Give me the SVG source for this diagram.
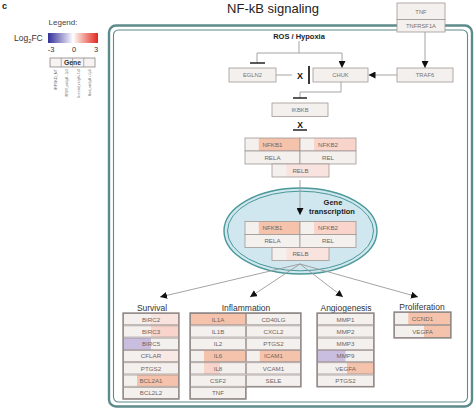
<svg xmlns="http://www.w3.org/2000/svg" width="474" height="409" viewBox="0 0 474 409">
<defs>
<linearGradient id="fc" x1="0" y1="0" x2="1" y2="0">
<stop offset="0" stop-color="#33309a"/>
<stop offset="0.42" stop-color="#dcd9ee"/>
<stop offset="0.5" stop-color="#ffffff"/>
<stop offset="0.6" stop-color="#f7d3cb"/>
<stop offset="1" stop-color="#e3261f"/>
</linearGradient>
<marker id="ah" viewBox="0 0 10 10" refX="10" refY="5" markerWidth="7" markerHeight="7" orient="auto" markerUnits="userSpaceOnUse">
<path d="M0,0 L10,5 L0,10 Z" fill="#111"/>
</marker>
</defs>
<style>
text{font-family:"Liberation Sans",Arial,sans-serif}
.cb{fill:#f4f0ee}
.o{fill:#f5c3ab}
.p{fill:#f8d4cb}
.lp{fill:#f9e3de}
.v{fill:#c9bee0}
.cs{fill:none;stroke:#a09795;stroke-width:0.8}
.gt{font-size:6.2px;fill:#6e6663;text-anchor:middle}
.st{font-size:5.8px;fill:#7a7270;text-anchor:middle}
.grp{fill:none;stroke:#8a8280;stroke-width:1.3}
.ln{fill:none;stroke:#9a9a9a;stroke-width:0.9}
.tb{stroke:#222;stroke-width:1.5}
.hd{font-size:8.5px;fill:#333;text-anchor:middle}
.rl{font-size:4.4px;fill:#666}
</style>
<rect width="474" height="409" fill="#ffffff"/>
<text x="2" y="9" font-size="9" font-weight="bold" fill="#222">c</text>
<text x="273" y="12.5" font-size="13" fill="#222" text-anchor="middle">NF-kB signaling</text>

<!-- Legend -->
<g id="legend">
<text x="63" y="25" font-size="8" fill="#444" text-anchor="middle">Legend:</text>
<text x="14" y="41" font-size="8.5" fill="#333">Log<tspan font-size="5.8" dy="2">2</tspan><tspan dy="-2">FC</tspan></text>
<rect x="48" y="33" width="50" height="10" fill="url(#fc)"/>
<text x="51" y="52" font-size="7.5" fill="#333" text-anchor="middle">-3</text>
<text x="74" y="52" font-size="7.5" fill="#333" text-anchor="middle">0</text>
<text x="96" y="52" font-size="7.5" fill="#333" text-anchor="middle">3</text>
<rect x="50" y="58" width="45" height="9" fill="#f6f3f2" stroke="#8c8482" stroke-width="0.8"/>
<line x1="61.25" y1="58" x2="61.25" y2="67" stroke="#8c8482" stroke-width="0.6"/>
<line x1="72.5" y1="58" x2="72.5" y2="67" stroke="#8c8482" stroke-width="0.6"/>
<line x1="83.75" y1="58" x2="83.75" y2="67" stroke="#8c8482" stroke-width="0.6"/>
<text x="72.5" y="65.2" font-size="6.8" font-weight="bold" fill="#333" text-anchor="middle">Gene</text>
<text class="rl" transform="translate(57.2,69) rotate(-90)" text-anchor="end" textLength="21" lengthAdjust="spacingAndGlyphs">IRF5KD_NT</text>
<text class="rl" transform="translate(68.4,69) rotate(-90)" text-anchor="end" textLength="28" lengthAdjust="spacingAndGlyphs">IRF5KD_anti-IgM + CpG</text>
<text class="rl" transform="translate(79.7,69) rotate(-90)" text-anchor="end" textLength="29" lengthAdjust="spacingAndGlyphs">Scrambled_anti-IgM + CpG</text>
<text class="rl" transform="translate(90.9,69) rotate(-90)" text-anchor="end" textLength="27" lengthAdjust="spacingAndGlyphs">Mock_anti-IgM + CpG</text>
</g>

<!-- Cell membrane -->
<g id="cell">
<rect x="109" y="25.5" width="363" height="381" rx="7" fill="none" stroke="#5d8a8a" stroke-width="2.4"/>
<rect x="113.5" y="30" width="354" height="372" rx="5" fill="none" stroke="#5d8a8a" stroke-width="1.1"/>
</g>

<!-- Nucleus -->
<g id="nucleus">
<ellipse cx="300.5" cy="231" rx="76.5" ry="43" fill="#d0e7ef" stroke="#4a9898" stroke-width="1.4"/>
<ellipse cx="300.5" cy="231" rx="73" ry="39.8" fill="none" stroke="#4a9898" stroke-width="1"/>
<text x="333" y="205" font-size="7.5" font-weight="bold" fill="#222" text-anchor="middle">Gene</text>
<text x="332" y="214" font-size="7.5" font-weight="bold" fill="#222" text-anchor="middle">transcription</text>
</g>

<text x="299" y="38.5" font-size="7.5" font-weight="bold" fill="#222" text-anchor="middle">ROS / Hypoxia</text>

<!-- Connectors -->
<g id="connectors">
<path class="ln" d="M299,41 V53 M257,53 H342 M257,53 V63"/>
<line class="tb" x1="250" y1="63" x2="265" y2="63"/>
<line class="ln" x1="342" y1="53" x2="342" y2="68" marker-end="url(#ah)"/>
<line class="ln" x1="276" y1="75" x2="292" y2="75"/>
<text x="300" y="78.5" font-size="9" font-weight="bold" fill="#111" text-anchor="middle">X</text>
<line x1="309" y1="66" x2="309" y2="84" stroke="#222" stroke-width="1.8"/>
<line class="ln" x1="397" y1="75" x2="368.5" y2="75" marker-end="url(#ah)"/>
<line class="ln" x1="425" y1="32" x2="425" y2="68" marker-end="url(#ah)"/>
<path class="ln" d="M341,82 V92 H300 V98"/>
<line class="tb" x1="293" y1="98" x2="307" y2="98"/>
<text x="300" y="128" font-size="8.5" font-weight="bold" fill="#111" text-anchor="middle">X</text>
<line class="tb" x1="293" y1="130" x2="307" y2="130"/>
<line class="ln" x1="300" y1="180" x2="300" y2="215" marker-end="url(#ah)"/>
<line class="ln" x1="300" y1="264" x2="160" y2="297" marker-end="url(#ah)"/>
<line class="ln" x1="300" y1="264" x2="250" y2="297" marker-end="url(#ah)"/>
<line class="ln" x1="300" y1="264" x2="343" y2="297" marker-end="url(#ah)"/>
<line class="ln" x1="300" y1="264" x2="418" y2="297" marker-end="url(#ah)"/>
</g>

<!-- Upstream nodes -->
<g id="TNF"><rect class="cb" x="397" y="3" width="48" height="16.5"/><rect class="cs" x="397" y="3" width="48" height="16.5"/><text class="st" x="421" y="13.5">TNF</text></g>
<g id="TNFRSF1A"><rect class="cb" x="397" y="19.5" width="48" height="12.5"/><rect class="cs" x="397" y="19.5" width="48" height="12.5"/><text class="st" x="421" y="27.8">TNFRSF1A</text></g>
<g id="EGLN2"><rect class="cb" x="229" y="68" width="47" height="14"/><rect class="cs" x="229" y="68" width="47" height="14"/><text class="st" x="252.5" y="77.2">EGLN2</text></g>
<g id="CHUK"><rect class="cb" x="313" y="68" width="55" height="14"/><rect class="cs" x="313" y="68" width="55" height="14"/><text class="st" x="340.5" y="77.2">CHUK</text></g>
<g id="TRAF6"><rect class="cb" x="397" y="68" width="56" height="14"/><rect class="cs" x="397" y="68" width="56" height="14"/><text class="st" x="425" y="77.2">TRAF6</text></g>
<g id="IKBKB"><rect class="cb" x="272" y="103" width="56" height="13.5"/><rect class="cs" x="272" y="103" width="56" height="13.5"/><text class="st" x="300" y="112">IKBKB</text></g>

<!-- Cytoplasmic NF-kB complex -->
<g id="complex-cyto">
<rect class="cb" x="245" y="138" width="55" height="13"/><rect class="o" x="258.75" y="138" width="41.25" height="13"/><rect class="cs" x="245" y="138" width="55" height="13"/><text class="gt" x="272.5" y="146.8">NFKB1</text>
<rect class="cb" x="300" y="138" width="56" height="13"/><rect class="p" x="314" y="138" width="42" height="13"/><rect class="cs" x="300" y="138" width="56" height="13"/><text class="gt" x="328" y="146.8">NFKB2</text>
<rect class="cb" x="245" y="151" width="55" height="13"/><rect class="cs" x="245" y="151" width="55" height="13"/><text class="gt" x="272.5" y="159.8">RELA</text>
<rect class="cb" x="300" y="151" width="56" height="13"/><rect class="cs" x="300" y="151" width="56" height="13"/><text class="gt" x="328" y="159.8">REL</text>
<rect class="cb" x="272" y="164" width="57" height="13"/><rect class="lp" x="286.25" y="164" width="42.75" height="13"/><rect class="cs" x="272" y="164" width="57" height="13"/><text class="gt" x="300.5" y="172.8">RELB</text>
</g>

<!-- Nuclear NF-kB complex -->
<g id="complex-nuc">
<rect class="cb" x="245" y="221.5" width="55" height="13"/><rect class="o" x="258.75" y="221.5" width="41.25" height="13"/><rect class="cs" x="245" y="221.5" width="55" height="13"/><text class="gt" x="272.5" y="230.3">NFKB1</text>
<rect class="cb" x="300" y="221.5" width="56" height="13"/><rect class="p" x="314" y="221.5" width="42" height="13"/><rect class="cs" x="300" y="221.5" width="56" height="13"/><text class="gt" x="328" y="230.3">NFKB2</text>
<rect class="cb" x="245" y="234.5" width="55" height="13"/><rect class="cs" x="245" y="234.5" width="55" height="13"/><text class="gt" x="272.5" y="243.3">RELA</text>
<rect class="cb" x="300" y="234.5" width="56" height="13"/><rect class="cs" x="300" y="234.5" width="56" height="13"/><text class="gt" x="328" y="243.3">REL</text>
<rect class="cb" x="272" y="247.5" width="57" height="13"/><rect class="lp" x="286.25" y="247.5" width="42.75" height="13"/><rect class="cs" x="272" y="247.5" width="57" height="13"/><text class="gt" x="300.5" y="256.3">RELB</text>
</g>

<!-- Survival -->
<g id="survival">
<text class="hd" x="152" y="311">Survival</text>
<rect class="cb" x="123" y="313" width="56" height="12.3"/><rect class="lp" x="151" y="313" width="28" height="12.3"/><rect class="cs" x="123.5" y="313.5" width="55" height="11.3"/><text class="gt" x="151" y="321.5">BIRC2</text>
<rect class="cb" x="123" y="325.3" width="56" height="12.3"/><rect class="p" x="151" y="325.3" width="28" height="12.3"/><rect class="cs" x="123.5" y="325.8" width="55" height="11.3"/><text class="gt" x="151" y="333.8">BIRC3</text>
<rect class="cb" x="123" y="337.6" width="56" height="12.3"/><rect class="v" x="123" y="337.6" width="28" height="12.3"/><rect class="cs" x="123.5" y="338.1" width="55" height="11.3"/><text class="gt" x="151" y="346.1">BIRC5</text>
<rect class="cb" x="123" y="349.9" width="56" height="12.3"/><rect fill="#f8e9e5" x="151" y="349.9" width="28" height="12.3"/><rect class="cs" x="123.5" y="350.4" width="55" height="11.3"/><text class="gt" x="151" y="358.4">CFLAR</text>
<rect class="cb" x="123" y="362.2" width="56" height="12.3"/><rect class="cs" x="123.5" y="362.7" width="55" height="11.3"/><text class="gt" x="151" y="370.7">PTGS2</text>
<rect class="cb" x="123" y="374.5" width="56" height="12.3"/><rect class="o" x="137" y="374.5" width="42" height="12.3"/><rect class="cs" x="123.5" y="375" width="55" height="11.3"/><text class="gt" x="151" y="383">BCL2A1</text>
<rect class="cb" x="123" y="386.8" width="56" height="12.3"/><rect class="cs" x="123.5" y="387.3" width="55" height="11.3"/><text class="gt" x="151" y="395.3">BCL2L2</text>
<rect class="grp" x="123" y="313" width="56" height="86.1"/>
</g>

<!-- Inflammation -->
<g id="inflammation">
<text class="hd" x="246" y="311">Inflammation</text>
<rect class="o" x="190" y="313" width="56" height="12.3"/><rect class="cs" x="190.5" y="313.5" width="55" height="11.3"/><text class="gt" x="218" y="321.5">IL1A</text>
<rect class="cb" x="190" y="325.3" width="56" height="12.3"/><rect class="cs" x="190.5" y="325.8" width="55" height="11.3"/><text class="gt" x="218" y="333.8">IL1B</text>
<rect class="cb" x="190" y="337.6" width="56" height="12.3"/><rect class="cs" x="190.5" y="338.1" width="55" height="11.3"/><text class="gt" x="218" y="346.1">IL2</text>
<rect class="cb" x="190" y="349.9" width="56" height="12.3"/><rect class="o" x="204" y="349.9" width="42" height="12.3"/><rect class="cs" x="190.5" y="350.4" width="55" height="11.3"/><text class="gt" x="218" y="358.4">IL6</text>
<rect class="cb" x="190" y="362.2" width="56" height="12.3"/><rect class="p" x="204" y="362.2" width="16" height="12.3"/><rect class="cs" x="190.5" y="362.7" width="55" height="11.3"/><text class="gt" x="218" y="370.7">IL8</text>
<rect class="cb" x="190" y="374.5" width="56" height="12.3"/><rect class="cs" x="190.5" y="375" width="55" height="11.3"/><text class="gt" x="218" y="383">CSF2</text>
<rect class="cb" x="190" y="386.8" width="56" height="12.3"/><rect class="cs" x="190.5" y="387.3" width="55" height="11.3"/><text class="gt" x="218" y="395.3">TNF</text>
<rect class="cb" x="246" y="313" width="55" height="12.3"/><rect class="cs" x="246.5" y="313.5" width="54" height="11.3"/><text class="gt" x="273.5" y="321.5">CD40LG</text>
<rect class="cb" x="246" y="325.3" width="55" height="12.3"/><rect class="cs" x="246.5" y="325.8" width="54" height="11.3"/><text class="gt" x="273.5" y="333.8">CXCL2</text>
<rect class="cb" x="246" y="337.6" width="55" height="12.3"/><rect class="cs" x="246.5" y="338.1" width="54" height="11.3"/><text class="gt" x="273.5" y="346.1">PTGS2</text>
<rect class="cb" x="246" y="349.9" width="55" height="12.3"/><rect class="o" x="259.75" y="349.9" width="41.25" height="12.3"/><rect class="cs" x="246.5" y="350.4" width="54" height="11.3"/><text class="gt" x="273.5" y="358.4">ICAM1</text>
<rect class="cb" x="246" y="362.2" width="55" height="12.3"/><rect class="cs" x="246.5" y="362.7" width="54" height="11.3"/><text class="gt" x="273.5" y="370.7">VCAM1</text>
<rect class="cb" x="246" y="374.5" width="55" height="12.3"/><rect class="cs" x="246.5" y="375" width="54" height="11.3"/><text class="gt" x="273.5" y="383">SELE</text>
<path class="grp" d="M190,313 H301 V386.8 H246 V399.1 H190 Z"/>
</g>

<!-- Angiogenesis -->
<g id="angiogenesis">
<text class="hd" x="346" y="311">Angiogenesis</text>
<rect class="cb" x="317" y="313" width="57" height="12.3"/><rect class="cs" x="317.5" y="313.5" width="56" height="11.3"/><text class="gt" x="345.5" y="321.5">MMP1</text>
<rect class="cb" x="317" y="325.3" width="57" height="12.3"/><rect class="cs" x="317.5" y="325.8" width="56" height="11.3"/><text class="gt" x="345.5" y="333.8">MMP2</text>
<rect class="cb" x="317" y="337.6" width="57" height="12.3"/><rect class="cs" x="317.5" y="338.1" width="56" height="11.3"/><text class="gt" x="345.5" y="346.1">MMP3</text>
<rect class="cb" x="317" y="349.9" width="57" height="12.3"/><rect class="v" x="317" y="349.9" width="28.5" height="12.3"/><rect class="cs" x="317.5" y="350.4" width="56" height="11.3"/><text class="gt" x="345.5" y="358.4">MMP9</text>
<rect class="cb" x="317" y="362.2" width="57" height="12.3"/><rect class="o" x="347" y="362.2" width="27" height="12.3"/><rect class="cs" x="317.5" y="362.7" width="56" height="11.3"/><text class="gt" x="345.5" y="370.7">VEGFA</text>
<rect class="cb" x="317" y="374.5" width="57" height="12.3"/><rect class="cs" x="317.5" y="375" width="56" height="11.3"/><text class="gt" x="345.5" y="383">PTGS2</text>
<rect class="grp" x="317" y="313" width="57" height="73.8"/>
</g>

<!-- Proliferation -->
<g id="proliferation">
<text class="hd" x="422" y="309.5">Proliferation</text>
<rect class="cb" x="394" y="312" width="57" height="13"/><rect class="o" x="408.25" y="312" width="42.75" height="13"/><rect class="cs" x="394.5" y="312.5" width="56" height="12"/><text class="gt" x="422.5" y="320.8">CCND1</text>
<rect class="cb" x="394" y="325" width="57" height="13"/><rect class="o" x="424" y="325" width="27" height="13"/><rect class="cs" x="394.5" y="325.5" width="56" height="12"/><text class="gt" x="422.5" y="333.8">VEGFA</text>
<rect class="grp" x="394" y="312" width="57" height="26"/>
</g>
</svg>
